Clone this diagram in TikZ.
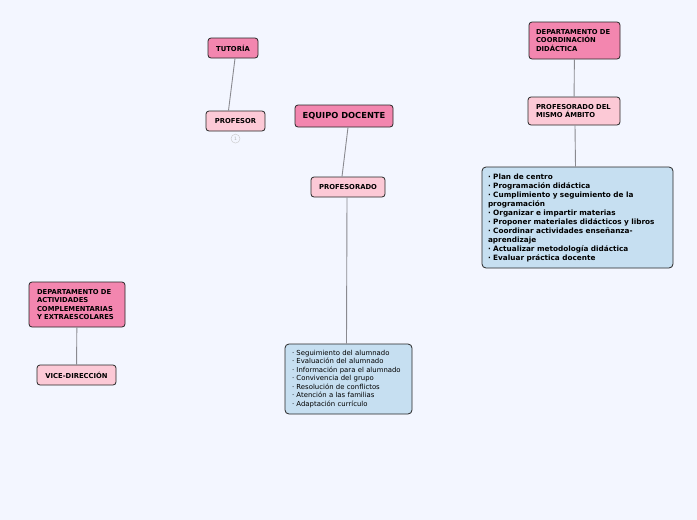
\documentclass[tikz,border=0pt]{standalone}
\usepackage{fontspec}
\setmainfont{DejaVu Sans}
\usetikzlibrary{positioning}
\definecolor{bgblue}{HTML}{F3F6FF}
\definecolor{pinkmain}{HTML}{F386AF}
\definecolor{pinklight}{HTML}{FCC9D6}
\definecolor{listblue}{HTML}{C6DFF1}
\definecolor{linkgray}{HTML}{8A8A90}

\begin{document}
\begin{tikzpicture}[x=1pt, y=-1pt,
    topic/.style={draw=black!85, line width=0.8pt, rounded corners=3pt, fill=pinkmain, font=\fontsize{6.8}{8.5}\selectfont\bfseries, inner sep=0pt, align=center},
    sub/.style={topic, fill=pinklight},
    notes/.style={draw=black!85, line width=0.8pt, rounded corners=4pt, fill=listblue, align=left, inner xsep=8pt, inner ysep=0pt},
    link/.style={draw=linkgray, line width=0.9pt}
]
    \fill[bgblue] (0,0) rectangle (697,520);

    % Tutoria
    \node[topic, minimum width=50, minimum height=20] (tutoria) at (233,48) {TUTORÍA};
    \node[sub, minimum width=59, minimum height=20] (profesor) at (235.5,121) {PROFESOR};
    \node[draw=gray!45, circle, minimum size=9pt, inner sep=0pt, text=gray!60, font=\fontsize{4.5}{5}\selectfont, below=2.5pt of profesor] (contador) {1};
    \draw[link] ([xshift=2]tutoria.south) -- ([xshift=-7]profesor.north);

    % Equipo docente
    \node[topic, minimum width=98, minimum height=22, font=\fontsize{8.3}{9}\selectfont\bfseries] (equipo) at (344,116) {EQUIPO DOCENTE};
    \node[sub, minimum width=74, minimum height=20] (profesorado) at (348,187) {PROFESORADO};
    \node[notes, text width=113, inner xsep=7, minimum height=70, font=\fontsize{6.9}{8.5}\selectfont] (seguimiento) at (348.5,379) {%
        · Seguimiento del alumnado\\
        · Evaluación del alumnado\\
        · Información para el alumnado\\
        · Convivencia del grupo\\
        · Resolución de conflictos\\
        · Atención a las familias\\
        · Adaptación currículo};
    \draw[link] ([xshift=4]equipo.south) -- ([xshift=-6]profesorado.north);
    \draw[link] ([xshift=-1]profesorado.south) -- ([xshift=-2]seguimiento.north);

    % Coordinacion didactica
    \node[topic, text width=77, inner xsep=7, minimum height=37, align=left] (coordinacion) at (574.5,40.5) {DEPARTAMENTO DE\\COORDINACIÓN\\DIDÁCTICA};
    \node[sub, text width=76, inner xsep=8, minimum height=28, align=left] (ambito) at (574,111) {PROFESORADO DEL\\MISMO ÁMBITO};
    \node[notes, text width=179, inner xsep=6, minimum height=101, font=\fontsize{7.3}{9}\selectfont\bfseries] (tareas) at (577.5,217.5) {%
        · Plan de centro\\
        · Programación didáctica\\
        · Cumplimiento y seguimiento de la\\
        programación\\
        · Organizar e impartir materias\\
        · Proponer materiales didácticos y libros\\
        · Coordinar actividades enseñanza-\\
        aprendizaje\\
        · Actualizar metodología didáctica\\
        · Evaluar práctica docente};
    \draw[link] (coordinacion) -- (ambito);
    \draw[link] ([xshift=1]ambito.south) -- ([xshift=-2]tareas.north);

    % Actividades extraescolares
    \node[topic, text width=80, inner xsep=8, minimum height=45, align=left] (actividades) at (77,304.5) {DEPARTAMENTO DE\\ACTIVIDADES\\COMPLEMENTARIAS\\Y EXTRAESCOLARES};
    \node[sub, minimum width=79, minimum height=20] (vice) at (76.5,375) {VICE-DIRECCIÓN};
    \draw[link] (actividades) -- (vice);
\end{tikzpicture}
\end{document}
